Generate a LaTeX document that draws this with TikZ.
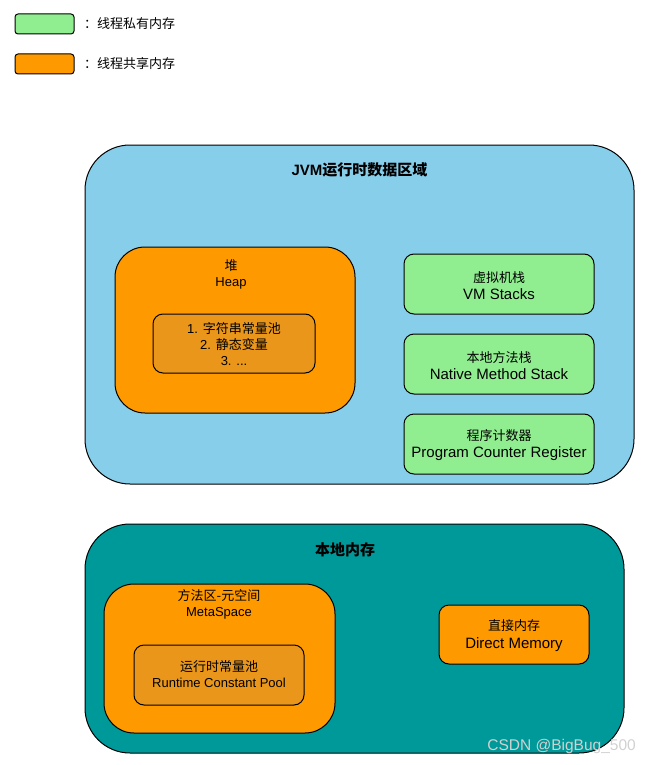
\documentclass[tikz,border=0pt]{standalone}
\usepackage{fontspec}
\setmainfont{Liberation Sans}
\newfontfamily\cjk{Noto Sans CJK SC}
\definecolor{privgreen}{HTML}{90EE90}
\definecolor{sharedorange}{HTML}{FF9900}
\definecolor{innerorange}{HTML}{E9961A}
\definecolor{jvmblue}{HTML}{87CEEB}
\definecolor{nativeteal}{HTML}{009999}
\newcommand{\fs}[2]{\fontsize{#1}{#2}\selectfont}
\begin{document}
\begin{tikzpicture}[x=1pt,y=-1pt,
  box/.style={draw=black, line width=1pt, inner sep=0pt},
  txt/.style={align=center, inner sep=0pt, text=black},
]
\useasboundingbox (0,0) rectangle (648,765);
% legend
\node[box, fill=privgreen, rounded corners=3pt, minimum width=59pt, minimum height=20pt] (lg1) at (44.5,24) {};
\node[box, fill=sharedorange, rounded corners=3pt, minimum width=59pt, minimum height=20pt] (lg2) at (44.5,64) {};
\node[txt, anchor=west, font={\fs{13}{16}\cjk}] (lt1) at (84,24) {：线程私有内存};
\node[txt, anchor=west, font={\fs{13}{16}\cjk}] (lt2) at (84,64) {：线程共享内存};
% JVM area
\node[box, fill=jvmblue, rounded corners=45pt, minimum width=549pt, minimum height=339pt] (jvm) at (359.5,314.5) {};
\node[txt, font={\fs{15}{16}\bfseries}] (jvmt) at (359.5,170) {JVM{\cjk 运行时数据区域}};
% heap
\node[box, fill=sharedorange, rounded corners=30pt, minimum width=240pt, minimum height=166pt] (heap) at (235,330) {};
\node[txt, font={\fs{13}{16}}] (heapt) at (231,274) {{\cjk 堆}\\Heap};
\node[box, fill=innerorange, rounded corners=10pt, minimum width=162pt, minimum height=59pt] (hin) at (234,343.5) {};
\node[txt, font={\fs{13}{16}}] (hint) at (234,344.5) {1. {\cjk 字符串常量池}\\2. {\cjk 静态变量}\\3. ...};
% stacks
\node[box, fill=privgreen, rounded corners=10pt, minimum width=190pt, minimum height=60pt] (vms) at (499,284) {};
\node[txt, font={\fs{15}{17}}] (vmst) at (499,285.5) {{\fs{13}{17}\cjk 虚拟机栈}\\VM Stacks};
\node[box, fill=privgreen, rounded corners=10pt, minimum width=190pt, minimum height=60pt] (nms) at (499,364) {};
\node[txt, font={\fs{15}{17}}] (nmst) at (499,365.5) {{\fs{13}{17}\cjk 本地方法栈}\\Native Method Stack};
\node[box, fill=privgreen, rounded corners=10pt, minimum width=190pt, minimum height=60pt] (pcr) at (499,444) {};
\node[txt, font={\fs{15}{17}}] (pcrt) at (499,445.5) {{\fs{13}{17}\cjk 程序计数器}\\Program Counter Register};
% native memory
\node[box, fill=nativeteal, rounded corners=45pt, minimum width=539pt, minimum height=229pt] (nat) at (354.5,638.5) {};
\node[txt, font={\fs{15}{16}\bfseries\cjk}] (natt) at (345,550) {本地内存};
\node[box, fill=sharedorange, rounded corners=30pt, minimum width=231pt, minimum height=149pt] (meta) at (219.5,658.5) {};
\node[txt, font={\fs{13}{16}}] (metat) at (219,604.5) {{\cjk 方法区-元空间}\\MetaSpace};
\node[box, fill=innerorange, rounded corners=10pt, minimum width=170pt, minimum height=60pt] (rcp) at (219,675) {};
\node[txt, font={\fs{13}{16}}] (rcpt) at (219,674.5) {{\cjk 运行时常量池}\\Runtime Constant Pool};
\node[box, fill=sharedorange, rounded corners=10pt, minimum width=150pt, minimum height=59pt] (dm) at (514,634.5) {};
\node[txt, font={\fs{15}{18}}] (dmt) at (514,635.5) {{\fs{13}{18}\cjk 直接内存}\\Direct Memory};
% watermark
\node[txt, anchor=east, text=white!82!black, font={\fs{15.5}{16}}] (wm) at (636,746) {CSDN @BigBug\_500};
\end{tikzpicture}
\end{document}
